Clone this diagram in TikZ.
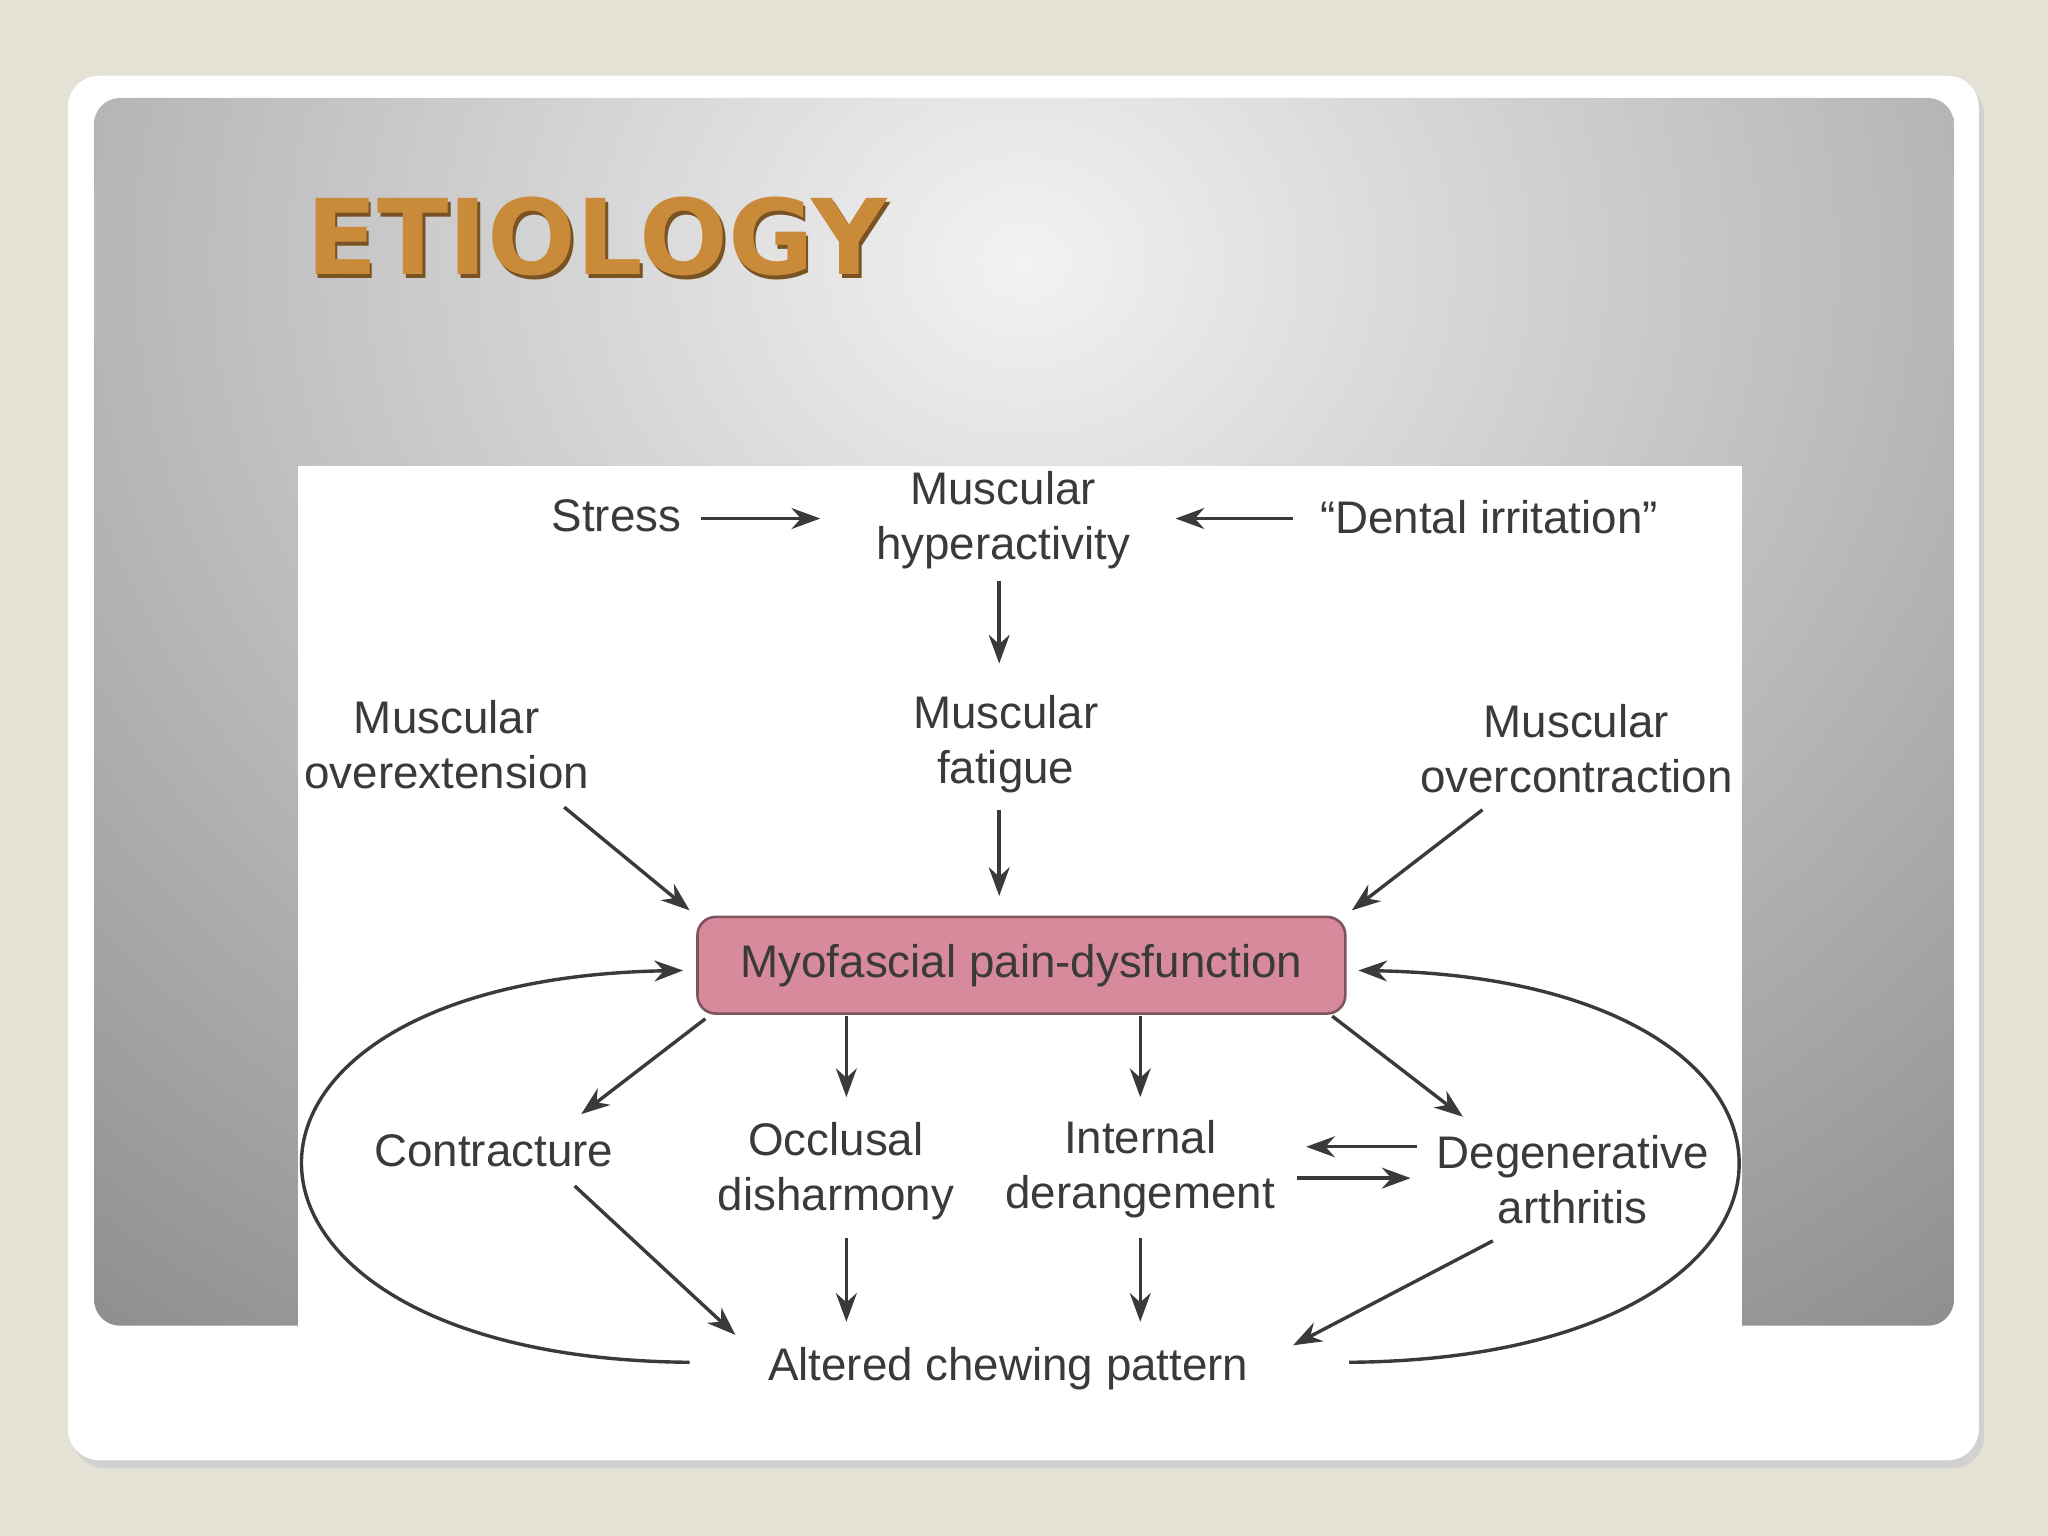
\documentclass[tikz,border=0pt]{standalone}
\usepackage{fontspec}
\setmainfont{Liberation Sans}
\newfontfamily\titlefont{DejaVu Sans}
\usetikzlibrary{arrows.meta}
\definecolor{txt}{HTML}{3A3A3A}
\definecolor{bg}{HTML}{E4E1D5}
\definecolor{pinkbox}{HTML}{D68A9C}
\definecolor{gold}{HTML}{C98A3A}
\tikzset{
  lbl/.style={text=txt,font=\fontsize{17.5}{21}\selectfont,align=center,inner sep=1pt},
  arr/.style={draw=txt,line width=1.3pt,-{Stealth[length=11pt,width=8pt]}},
  ttl/.style={font=\titlefont\bfseries\fontsize{40}{46}\selectfont},
}
\begin{document}
\begin{tikzpicture}[x=0.5pt,y=-0.5pt]
\useasboundingbox (0,0) rectangle (1568,1176);
\fill[bg] (0,0) rectangle (1568,1176);
\fill[black!18] (56,64) [rounded corners=12pt] rectangle (1519,1124);
\fill[white,rounded corners=12pt] (52,58) rectangle (1515,1118);
\begin{scope}
\clip[rounded corners=10pt] (72,75) rectangle (1496,1015);
\shade[inner color=white!95!black,outer color=black!45] (-416,-850) rectangle (1984,1250);
\end{scope}
\fill[white] (228,357) rectangle (1334,1118);
\node[ttl,text=gold!60!black] (titleshadow) at (459,184) {ETIOLOGY};
\node[ttl,text=gold] (title) at (457,181) {ETIOLOGY};
% nodes
\node[lbl] (stress) at (472,395) {Stress};
\node[lbl] (hyper) at (768,398) {Muscular\\hyperactivity};
\node[lbl] (dental) at (1140,396) {“Dental irritation”};
\node[lbl] (fatigue) at (770,570) {Muscular\\fatigue};
\node[lbl] (overext) at (342,570) {Muscular\\overextension};
\node[lbl] (overcon) at (1207,573) {Muscular\\overcontraction};
\node[lbl,fill=pinkbox,draw=pinkbox!60!black,line width=1pt,rounded corners=7pt,minimum width=248pt,minimum height=37pt] (mpd) at (782,739) {Myofascial pain-dysfunction};
\node[lbl] (contr) at (378,881) {Contracture};
\node[lbl] (occl) at (640,897) {Occlusal\\disharmony};
\node[lbl] (intern) at (873,895) {Internal\\derangement};
\node[lbl] (degen) at (1204,903) {Degenerative\\arthritis};
\node[lbl] (alt) at (772,1048) {Altered chewing pattern};
\coordinate (a1) at (537,397); \coordinate (a2) at (628,397);
\coordinate (b1) at (990,397); \coordinate (b2) at (900,397);
\draw[arr] (a1) -- (a2);
\draw[arr] (b1) -- (b2);
\draw[arr] (765,445) -- (765,508);
\draw[arr] (765,620) -- (765,686);
\draw[arr] (432,618) -- (528,697);
\draw[arr] (1135,620) -- (1035,697);
\draw[arr] (540,780) -- (445,853);
\draw[arr] (648,778) -- (648,840);
\draw[arr] (873,778) -- (873,840);
\draw[arr] (1020,778) -- (1120,855);
\draw[arr] (1085,878) -- (1000,878);
\draw[arr] (993,902) -- (1080,902);
\draw[arr] (440,908) -- (563,1022);
\draw[arr] (648,948) -- (648,1012);
\draw[arr] (873,948) -- (873,1012);
\draw[arr] (1143,950) -- (990,1030);
\draw[arr] (528,1043) .. controls (140,1040) and (130,750) .. (523,743);
\draw[arr] (1033,1043) .. controls (1425,1040) and (1430,750) .. (1040,743);
\end{tikzpicture}
\end{document}
